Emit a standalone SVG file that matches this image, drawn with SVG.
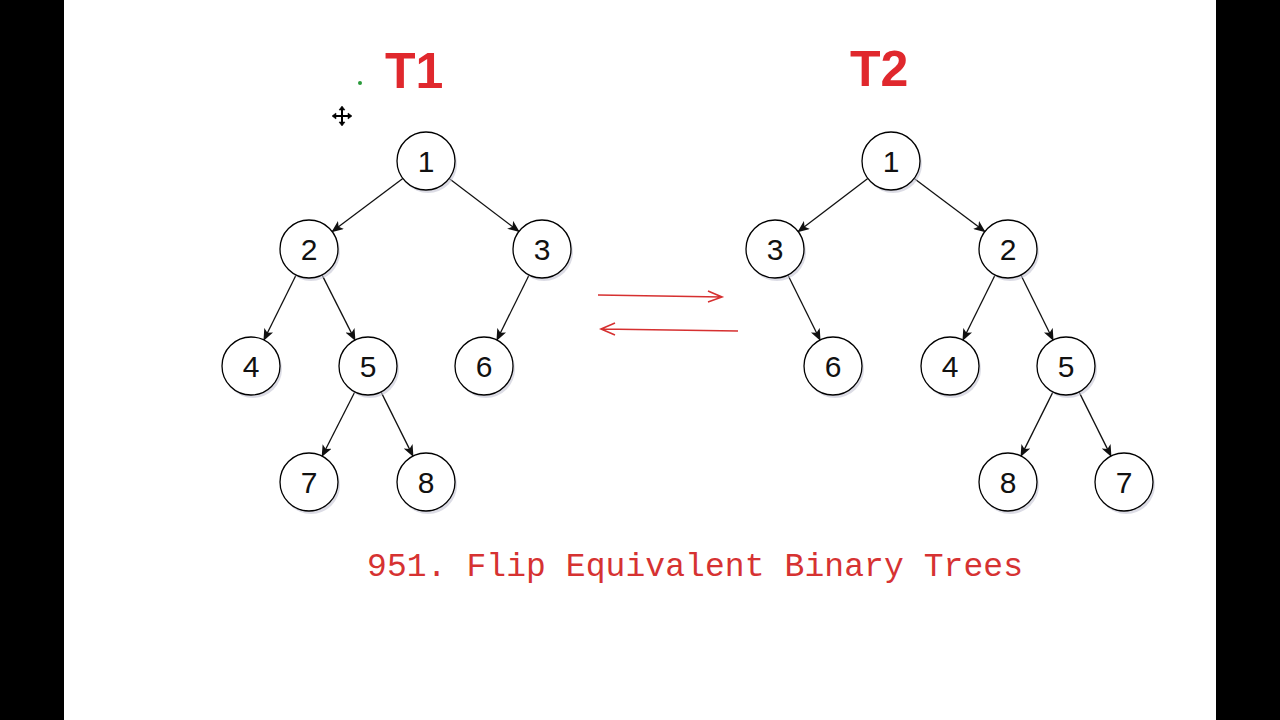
<svg xmlns="http://www.w3.org/2000/svg" width="1280" height="720" viewBox="0 0 1280 720">
<style>
.n text{font-family:"Liberation Sans",Arial,sans-serif;font-size:30px;text-anchor:middle;fill:#111}
.e line{stroke:#111;stroke-width:1.3;marker-end:url(#ah)}
.r{stroke:#d63030;stroke-width:1.6;fill:none}
.h{font-family:"Liberation Sans",sans-serif;font-size:50px;fill:#e0282d;font-weight:bold}
</style>
<defs>
<marker id="ah" markerWidth="12" markerHeight="10" refX="11" refY="5" orient="auto" markerUnits="userSpaceOnUse"><path d="M0,0 L12,5 L0,10 L3,5 Z" fill="#111"/></marker>
<g id="nd"><circle cx="2" cy="3" r="29" fill="#c4c4d4" opacity="0.6"/><circle r="29" fill="#fff" stroke="#000" stroke-width="1.3"/></g>
</defs>
<rect width="1280" height="720" fill="#fff"/>
<rect width="64" height="720" fill="#000"/>
<rect x="1216" width="64" height="720" fill="#000"/>
<text class="h" x="385" y="88">T1</text>
<text class="h" x="850" y="86">T2</text>
<circle cx="360" cy="83" r="2" fill="#2a9a3a"/>
<g stroke="#000" stroke-width="2" fill="#000"><line x1="342" y1="109" x2="342" y2="123"/><line x1="335" y1="116" x2="349" y2="116"/><path d="M339,110 L342,106 L345,110Z M339,122 L342,126 L345,122Z M336,113 L332,116 L336,119Z M348,113 L352,116 L348,119Z" stroke-width="0.5"/></g>
<g class="e" id="connectors">
<line x1="402.8" y1="178.4" x2="332.2" y2="231.6"/>
<line x1="449.1" y1="178.5" x2="518.9" y2="231.5"/>
<line x1="296.1" y1="275" x2="263.9" y2="340"/>
<line x1="322" y1="274.9" x2="355" y2="340.1"/>
<line x1="529.1" y1="275" x2="496.9" y2="340"/>
<line x1="354.9" y1="391.8" x2="322.1" y2="456.2"/>
<line x1="381" y1="391.9" x2="413" y2="456.1"/>
<line x1="867.8" y1="178.4" x2="798.2" y2="231.6"/>
<line x1="914.2" y1="178.4" x2="984.8" y2="231.6"/>
<line x1="787.9" y1="275" x2="820.1" y2="340"/>
<line x1="995.1" y1="275" x2="962.9" y2="340"/>
<line x1="1020.9" y1="275" x2="1053.1" y2="340"/>
<line x1="1053" y1="391.9" x2="1021" y2="456.1"/>
<line x1="1079" y1="391.9" x2="1111" y2="456.1"/>
</g>
<g id="flip-arrows">
<path class="r" d="M598,295 L722,297 M708,291 L722,297 L708,302"/>
<path class="r" d="M738,331 L601,329 M615,323 L601,329 L615,335"/>
</g>
<g class="n" id="t1n1" transform="translate(426,161)"><use href="#nd"/><text y="11">1</text></g>
<g class="n" id="t1n2" transform="translate(309,249)"><use href="#nd"/><text y="11">2</text></g>
<g class="n" id="t1n3" transform="translate(542,249)"><use href="#nd"/><text y="11">3</text></g>
<g class="n" id="t1n4" transform="translate(251,366)"><use href="#nd"/><text y="11">4</text></g>
<g class="n" id="t1n5" transform="translate(368,366)"><use href="#nd"/><text y="11">5</text></g>
<g class="n" id="t1n6" transform="translate(484,366)"><use href="#nd"/><text y="11">6</text></g>
<g class="n" id="t1n7" transform="translate(309,482)"><use href="#nd"/><text y="11">7</text></g>
<g class="n" id="t1n8" transform="translate(426,482)"><use href="#nd"/><text y="11">8</text></g>
<g class="n" id="t2n1" transform="translate(891,161)"><use href="#nd"/><text y="11">1</text></g>
<g class="n" id="t2n3" transform="translate(775,249)"><use href="#nd"/><text y="11">3</text></g>
<g class="n" id="t2n2" transform="translate(1008,249)"><use href="#nd"/><text y="11">2</text></g>
<g class="n" id="t2n6" transform="translate(833,366)"><use href="#nd"/><text y="11">6</text></g>
<g class="n" id="t2n4" transform="translate(950,366)"><use href="#nd"/><text y="11">4</text></g>
<g class="n" id="t2n5" transform="translate(1066,366)"><use href="#nd"/><text y="11">5</text></g>
<g class="n" id="t2n8" transform="translate(1008,482)"><use href="#nd"/><text y="11">8</text></g>
<g class="n" id="t2n7" transform="translate(1124,482)"><use href="#nd"/><text y="11">7</text></g>
<text x="367" y="576" font-family="Liberation Mono,monospace" font-size="33" fill="#d63232" textLength="656">951. Flip Equivalent Binary Trees</text>
</svg>
